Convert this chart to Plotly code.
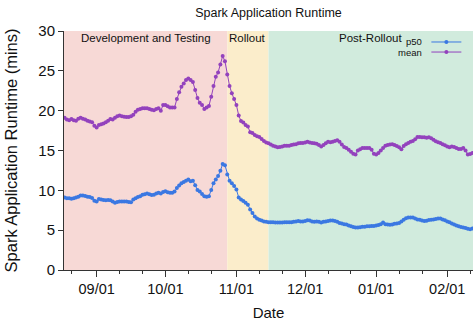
import pandas as pd
import plotly.graph_objects as go

# ---------------- data ----------------
start_date = "2018-08-18"
n_days = 179
dates = pd.date_range(start_date, periods=n_days, freq="D")

p50 = [
    9.1, 9.0, 9.0, 8.95, 9.0, 9.1, 9.2, 9.35, 9.35, 9.3,
    9.2, 9.15, 9.05, 8.7, 8.6, 8.9, 8.85, 8.8, 8.75, 8.8,
    8.75, 8.6, 8.45, 8.55, 8.6, 8.6, 8.6, 8.6, 8.55, 8.5,
    8.85, 9.0, 9.15, 9.25, 9.45, 9.5, 9.6, 9.5, 9.4, 9.45,
    9.6, 9.7, 9.6, 9.8, 9.9, 9.75, 9.7, 9.7, 9.85, 10.3,
    10.6, 10.9, 11.05, 11.2, 11.35, 11.15, 11.2, 10.65, 10.05, 9.85,
    9.55, 9.25, 9.2, 9.25, 10.05, 10.9, 11.35, 11.8, 12.45, 13.3,
    13.15, 12.0, 11.2, 10.9, 10.55, 10.1, 9.1, 8.85, 8.65, 8.45,
    8.2, 7.6, 7.15, 6.7, 6.45, 6.3, 6.2, 6.1, 6.05, 6.0,
    6.0, 5.98, 5.95, 5.95, 5.95, 5.95, 6.0, 6.0, 5.98, 6.0,
    6.05, 6.1, 6.15, 6.08, 6.1, 6.15, 6.25, 6.2, 6.1, 6.05,
    6.1, 6.05, 5.95, 6.05, 6.1, 6.15, 6.2, 6.2, 6.15, 6.05,
    5.9, 5.85, 5.75, 5.7, 5.6, 5.5, 5.4, 5.35, 5.35, 5.38,
    5.42, 5.42, 5.48, 5.5, 5.52, 5.52, 5.6, 5.65, 5.75, 5.95,
    5.75, 5.7, 5.68, 5.72, 5.8, 5.85, 5.9, 6.1, 6.3, 6.5,
    6.58, 6.6, 6.58, 6.45, 6.35, 6.3, 6.2, 6.15, 6.18, 6.28,
    6.32, 6.35, 6.4, 6.48, 6.45, 6.35, 6.25, 6.1, 6.0, 5.85,
    5.72, 5.6, 5.48, 5.4, 5.35, 5.28, 5.18, 5.1, 5.2,
]

mean = [
    19.1, 18.9, 18.8, 18.95, 18.8, 18.75, 19.0, 19.1, 19.0, 18.9,
    18.75, 18.65, 18.55, 18.1, 17.9, 18.2, 18.3, 18.4, 18.55, 18.75,
    18.95, 18.9, 19.1, 19.3, 19.4, 19.3, 19.25, 19.2, 19.2, 19.3,
    19.5, 19.85, 20.1, 20.2, 20.3, 20.3, 20.3, 20.2, 20.1, 20.05,
    20.2, 20.3, 20.0, 20.7, 20.7, 20.55, 20.4, 20.4, 20.4, 21.45,
    22.3, 23.0, 23.4, 23.85, 24.05, 23.85, 23.6, 22.6, 21.6, 21.0,
    20.7, 20.2, 20.4, 20.6, 21.75, 23.1, 24.25, 24.8, 25.8, 26.85,
    26.2, 24.55, 23.1, 22.2, 21.45, 20.7, 19.4, 18.7, 18.5, 18.2,
    18.0, 17.3, 17.2, 16.95, 16.8, 16.7, 16.45, 16.2, 16.0, 15.9,
    15.75, 15.6, 15.5, 15.4, 15.45, 15.5, 15.6, 15.6, 15.6, 15.7,
    15.75, 15.8, 15.9, 15.95, 15.95, 16.0, 16.1, 16.0, 15.95, 15.9,
    15.85, 15.7, 15.5, 15.7, 15.9, 16.1, 16.05, 16.1, 16.2, 16.3,
    16.1, 15.75, 15.45, 15.3, 15.1, 14.85, 14.6, 14.5, 15.0, 15.15,
    15.3, 15.3, 15.3, 15.3, 15.1, 14.6, 14.5, 14.7, 15.0, 15.3,
    15.6, 15.7, 15.75, 15.8, 15.7, 15.55, 15.4, 15.15, 15.55, 15.8,
    15.95, 16.1, 16.2, 16.4, 16.7, 16.7, 16.65, 16.65, 16.6, 16.65,
    16.55, 16.35, 16.15, 16.05, 15.95, 15.8, 15.65, 15.5, 15.4, 15.5,
    15.45, 15.3, 15.2, 15.2, 15.3, 15.0, 14.5, 14.55, 14.7,
]

x_range = ["2018-08-17 18:00", "2019-02-12 06:00"]
phase_names = ["Development and Testing", "Rollout", "Post-Rollout"]
phase_starts = ["2018-08-17 18:00", "2018-10-28", "2018-11-15"]
phase_ends = ["2018-10-28", "2018-11-15", "2019-02-12 06:00"]
phase_colors = ["#f7d9d6", "#fbedcb", "#d1ebdd"]

tick_vals = ["2018-09-01", "2018-10-01", "2018-11-01", "2018-12-01", "2019-01-01", "2019-02-01"]
tick_text = ["09/01", "10/01", "11/01", "12/01", "01/01", "02/01"]
minor_vals = ["2018-08-21", "2018-09-11", "2018-09-21", "2018-10-11", "2018-10-21",
              "2018-11-11", "2018-11-21", "2018-12-11", "2018-12-21",
              "2019-01-11", "2019-01-21", "2019-02-11"]

series_names = ["p50", "mean"]
series_colors = ["#3b78e2", "#9342bd"]

# ---------------- figure ----------------
FONT = "Liberation Sans, Arial, Helvetica, sans-serif"
fig = go.Figure()

for vals, name, color, lg in zip([p50, mean], series_names, series_colors, ["legend", "legend2"]):
    fig.add_trace(go.Scatter(
        x=dates, y=vals, name="", mode="lines+markers",
        line=dict(color=color, width=1),
        marker=dict(color=color, size=4),
        legend=lg, showlegend=True,
    ))

shapes = []
annotations = []
for nm, s, e, c in zip(phase_names, phase_starts, phase_ends, phase_colors):
    shapes.append(dict(type="rect", xref="x", yref="paper", x0=s, x1=e, y0=0, y1=1,
                       fillcolor=c, line=dict(width=0), layer="below"))
    mid = pd.Timestamp(s) + (pd.Timestamp(e) - pd.Timestamp(s)) / 2
    annotations.append(dict(x=mid, y=0.971, xref="x", yref="paper", text=nm,
                            showarrow=False, xanchor="center", yanchor="middle",
                            font=dict(size=11.5, color="#111", family=FONT)))

# legend labels (gnuplot style: text to the left of the sample)
for nm, yy in zip(series_names, [0.954, 0.912]):
    annotations.append(dict(x=0.881, y=yy, xref="paper", yref="paper", text=nm,
                            showarrow=False, xanchor="right", yanchor="middle",
                            font=dict(size=9.5, color="#111", family=FONT)))

fig.update_layout(
    width=474, height=322,
    margin=dict(l=64, r=1, t=31, b=52),
    paper_bgcolor="white", plot_bgcolor="white",
    font=dict(family=FONT, size=14, color="#111"),
    title=dict(text="Spark Application Runtime", x=0.5665, xanchor="center",
               y=0.962, yanchor="middle", font=dict(size=12.5, family=FONT, color="#111")),
    shapes=shapes, annotations=annotations,
    legend=dict(x=0.886, y=0.954, xanchor="left", yanchor="middle",
                bgcolor="rgba(0,0,0,0)", font=dict(size=9), itemwidth=30,
                tracegroupgap=0),
    legend2=dict(x=0.886, y=0.912, xanchor="left", yanchor="middle",
                 bgcolor="rgba(0,0,0,0)", font=dict(size=9), itemwidth=30,
                 tracegroupgap=0),
    xaxis=dict(
        range=x_range, tickmode="array", tickvals=tick_vals, ticktext=tick_text,
        ticks="outside", ticklen=6, tickcolor="#333", showgrid=False, zeroline=False,
        showline=True, linecolor="#333", linewidth=1, automargin=False,
        tickfont=dict(size=14.5), title=dict(text="Date", font=dict(size=15), standoff=11),
        minor=dict(tickmode="array", tickvals=minor_vals, ticks="outside", ticklen=3,
                   tickcolor="#333", showgrid=False),
    ),
    yaxis=dict(
        range=[0, 30], tickmode="array", tickvals=[0, 5, 10, 15, 20, 25, 30],
        ticks="outside", ticklen=5, tickcolor="#333", showgrid=False, zeroline=False,
        showline=True, linecolor="#333", linewidth=1, automargin=False,
        tickfont=dict(size=15),
        title=dict(text="Spark Application Runtime (mins)", font=dict(size=16.5), standoff=16),
    ),
)

fig.write_html("out.html")
